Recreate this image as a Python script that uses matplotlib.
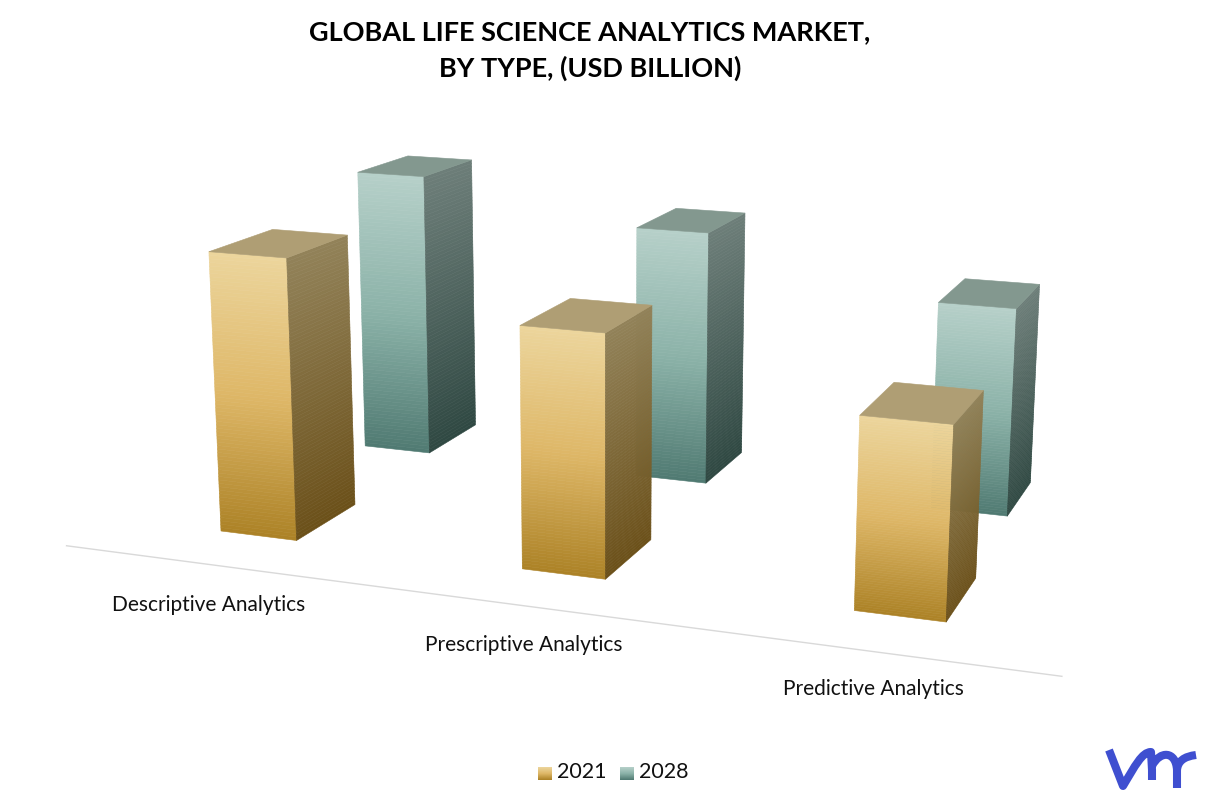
import matplotlib
import numpy as np

matplotlib.use("Agg")
import matplotlib.pyplot as plt
from matplotlib.collections import PolyCollection
from matplotlib.colors import LinearSegmentedColormap
from matplotlib.path import Path
from matplotlib.patches import PathPatch, Polygon

categories = ["Descriptive Analytics", "Prescriptive Analytics", "Predictive Analytics"]
years = ["2021", "2028"]
values_2021 = [30.2, 25.3, 19.5]
values_2028 = [33.2, 29.0, 23.2]

plt.rcParams['font.family'] = ['Lato', 'DejaVu Sans']

# camera: vanishing points in pixels, everything else is relative to them
VX = np.array([-6000.0, -250.0])
VY = np.array([1500.0, -200.0])
VZ = np.array([610.0, 9500.0])
ORIGIN = np.array([221.0, 531.0])

CAT_STEP = 0.0462
BAR_W = [0.012, 0.0113]
BAR_D = 0.0504
ROW_U = [0.0, -0.0007]
ROW_V = [0.0, 0.131]
HEIGHT_SCALE = 1000.0
N_STRIPS = 80


def project(u, v, w):
    d = 1 - u + v - w
    return (ORIGIN - u * VX + v * VY - w * VZ) / d


def cmap(*cols):
    return LinearSegmentedColormap.from_list("c", list(cols))


front_maps = [cmap("#AC8226", "#DEB767", "#ECD59C"), cmap("#507A72", "#8BB2A8", "#B6D0C9")]
side_maps = [cmap("#6B5019", "#928259"), cmap("#2F4842", "#6D7E79")]
top_cols = ["#AF9E74", "#83988F"]


def shade_face(ax, corner_a, corner_b, h, cm, zorder):
    # corner_a and corner_b are the bottom edge of the face, (u, v)
    ws = np.linspace(0, h, N_STRIPS + 1)
    polys = []
    for w0, w1 in zip(ws[:-1], ws[1:]):
        polys.append([project(*corner_a, w0), project(*corner_b, w0),
                      project(*corner_b, w1), project(*corner_a, w1)])
    cols = cm((ws[:-1] + ws[1:]) / (2 * h))
    ax.add_collection(PolyCollection(polys, facecolors=cols, edgecolors=cols,
                                     linewidths=0.4, zorder=zorder))


def draw_bar(ax, cat, row, val, zorder):
    h = val / HEIGHT_SCALE
    u0 = ROW_U[row] + cat * CAT_STEP
    u1 = u0 + BAR_W[row]
    v0 = ROW_V[row]
    v1 = v0 + BAR_D
    shade_face(ax, (u0, v0), (u1, v0), h, front_maps[row], zorder)
    shade_face(ax, (u1, v0), (u1, v1), h, side_maps[row], zorder)
    top = [project(u0, v0, h), project(u1, v0, h), project(u1, v1, h), project(u0, v1, h)]
    ax.add_patch(Polygon(top, closed=True, fc=top_cols[row], ec=top_cols[row], lw=0.4, zorder=zorder))


fig = plt.figure(figsize=(12.14, 8.08), dpi=100)
ax = fig.add_axes([0, 0, 1, 1])
ax.axis("off")

# floor line
p0 = project(-0.0166, -0.0375, 0)
p1 = project(0.1214, -0.0375, 0)
ax.plot([p0[0], p1[0]], [p0[1], p1[1]], color="#D9D9D9", lw=1.0, zorder=1)

for i, val in enumerate(values_2028):
    draw_bar(ax, i, 1, val, 2 + i)
for i, val in enumerate(values_2021):
    draw_bar(ax, i, 0, val, 6 + i)

label_xy = [(209, 605), (524, 645), (873, 689)]
for name, (x, y) in zip(categories, label_xy):
    ax.text(x, y, name, ha="center", va="center", fontsize=15, color="#111111")

ax.text(590, 32, "GLOBAL LIFE SCIENCE ANALYTICS MARKET,", ha="center", va="center",
        fontsize=19.5, fontweight="bold", color="black")
ax.text(590, 68, "BY TYPE, (USD BILLION)", ha="center", va="center",
        fontsize=19.5, fontweight="bold", color="black")

# legend swatches
grad = np.linspace(1, 0, 32).reshape(-1, 1)
for x, year, cm in zip([538, 620], years, front_maps):
    ax.imshow(grad, cmap=cm, extent=(x, x + 14, 780, 767), aspect="auto", zorder=3, vmin=0, vmax=1)
    ax.text(x + 19, 772, year, ha="left", va="center", fontsize=15.5, color="#111111")

# logo
logo = Path([(1109, 750), (1123, 786), (1135, 766), (1142, 752), (1151, 752), (1152, 770), (1152, 780),
             (1152, 766), (1160, 750), (1176, 751), (1177, 770), (1177, 788),
             (1177, 770), (1178, 757), (1196, 755)],
            [Path.MOVETO, Path.LINETO, Path.CURVE4, Path.CURVE4, Path.CURVE4, Path.LINETO, Path.LINETO,
             Path.MOVETO, Path.CURVE4, Path.CURVE4, Path.LINETO, Path.LINETO,
             Path.MOVETO, Path.CURVE3, Path.CURVE3])
ax.add_patch(PathPatch(logo, fill=False, ec="#3F4FD0", lw=5.8, capstyle="butt", joinstyle="round", zorder=3))

ax.set_xlim(0, 1214)
ax.set_ylim(808, 0)
fig.savefig("out.png", dpi=100)
